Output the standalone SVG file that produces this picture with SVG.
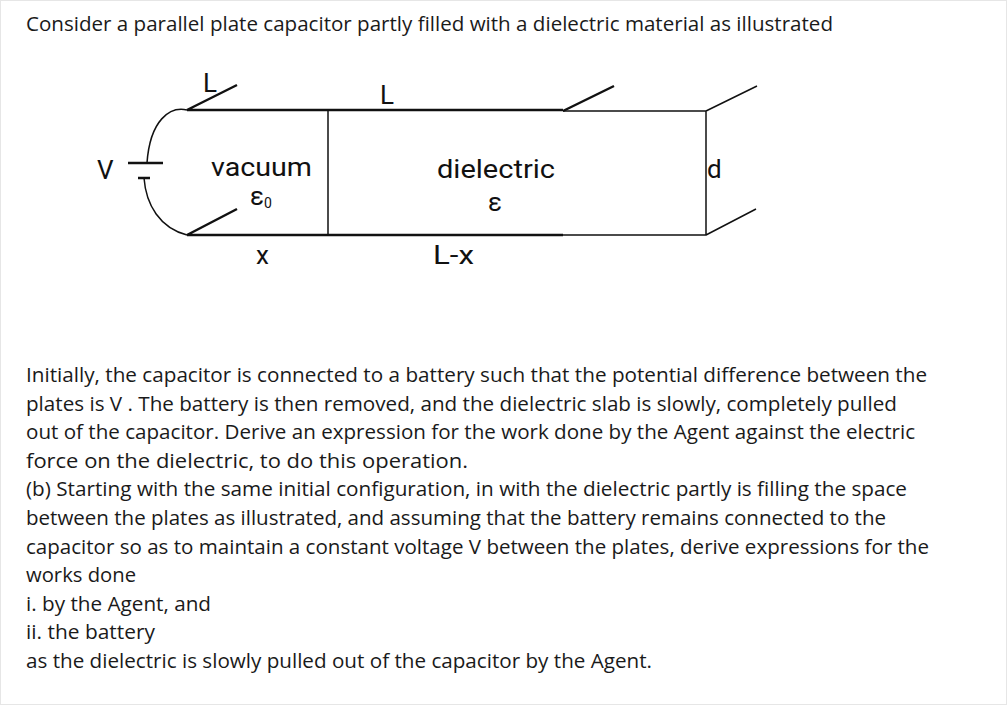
<svg xmlns="http://www.w3.org/2000/svg" width="1007" height="705" viewBox="0 0 1007 705">
<style>
.t{font-family:"Open Sans","Liberation Sans",sans-serif;font-size:20.5px;fill:#1a1a1a}
.d{font-family:Roboto,"Liberation Sans",sans-serif;font-size:26px;fill:#111}
.w{stroke:#111;stroke-width:2.5;fill:none}
.n{stroke:#111;stroke-width:1.5;fill:none}
</style>
<rect width="1007" height="705" fill="#fff"/>
<rect x="0.5" y="0.5" width="1006" height="704" fill="none" stroke="#e6e6e6"/>
<text class="t" x="26" y="31" textLength="807" lengthAdjust="spacingAndGlyphs">Consider a parallel plate capacitor partly filled with a dielectric material as illustrated</text>
<g id="capacitor">
<path class="w" d="M187 110 H563 M187 235 H563 M187 110 L237 85 M187 235 L237 209 M563 111 L614 86"/>
<path class="n" d="M563 111 H706 V235 H563 M328 110 V235 M706 111 L757 86 M706 235 L756 209"/>
</g>
<g id="battery">
<path class="w" d="M128 163 H163 M138 178 H150"/>
<path class="n" d="M187 110 C170 106 150 120 147 163 M144 178 C146 205 160 228 187 235"/>
</g>
<g id="labels">
<text class="d" x="203" y="92">L</text>
<text class="d" x="380" y="104">L</text>
<text class="d" x="97" y="179">V</text>
<text class="d" x="211" y="176" textLength="101" lengthAdjust="spacingAndGlyphs">vacuum</text>
<text class="d" x="250" y="205">ε<tspan font-size="14" dy="3">0</tspan></text>
<text class="d" x="256" y="264">x</text>
<text class="d" x="437" y="178" textLength="118" lengthAdjust="spacingAndGlyphs">dielectric</text>
<text class="d" x="488" y="211">ε</text>
<text class="d" x="433" y="264" textLength="41" lengthAdjust="spacingAndGlyphs">L-x</text>
<text class="d" x="707" y="178">d</text>
</g>
<g id="question">
<text class="t" x="26" y="382" textLength="901" lengthAdjust="spacingAndGlyphs">Initially, the capacitor is connected to a battery such that the potential difference between the</text>
<text class="t" x="26" y="411" textLength="871" lengthAdjust="spacingAndGlyphs">plates is V . The battery is then removed, and the dielectric slab is slowly, completely pulled</text>
<text class="t" x="26" y="439" textLength="889" lengthAdjust="spacingAndGlyphs">out of the capacitor. Derive an expression for the work done by the Agent against the electric</text>
<text class="t" x="26" y="468" textLength="442" lengthAdjust="spacingAndGlyphs">force on the dielectric, to do this operation.</text>
<text class="t" x="26" y="496" textLength="881" lengthAdjust="spacingAndGlyphs">(b) Starting with the same initial configuration, in with the dielectric partly is filling the space</text>
<text class="t" x="26" y="525" textLength="860" lengthAdjust="spacingAndGlyphs">between the plates as illustrated, and assuming that the battery remains connected to the</text>
<text class="t" x="26" y="554" textLength="903" lengthAdjust="spacingAndGlyphs">capacitor so as to maintain a constant voltage V between the plates, derive expressions for the</text>
<text class="t" x="26" y="582" textLength="110" lengthAdjust="spacingAndGlyphs">works done</text>
<text class="t" x="26" y="611" textLength="185" lengthAdjust="spacingAndGlyphs">i. by the Agent, and</text>
<text class="t" x="26" y="639" textLength="129" lengthAdjust="spacingAndGlyphs">ii. the battery</text>
<text class="t" x="26" y="668" textLength="626" lengthAdjust="spacingAndGlyphs">as the dielectric is slowly pulled out of the capacitor by the Agent.</text>
</g>
</svg>
